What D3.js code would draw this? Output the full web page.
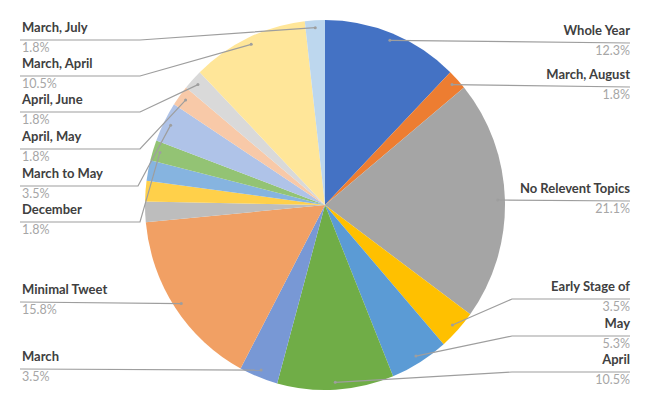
<!DOCTYPE html>
<html>
<head>
<meta charset="utf-8">
<script src="https://cdn.jsdelivr.net/npm/d3@7"></script>
<style>
  html, body { margin: 0; padding: 0; background: #fff; }
  svg { display: block; }
</style>
</head>
<body>
<div id="chart"></div>
<script>
// Slices, clockwise from 12 o'clock
const categories = [
  'Whole Year', 'March, August', 'No Relevent Topics', 'Early Stage of', 'May',
  'April', 'March', 'Minimal Tweet', '', '', '', 'December', 'March to May',
  'April, May', 'April, June', 'March, April', 'March, July'
];
const shares = [12.3, 1.8, 21.1, 3.5, 5.3, 10.5, 3.5, 15.8, 1.8, 1.8, 1.8, 1.8, 3.5, 1.8, 1.8, 10.5, 1.8];
const colors = [
  '#4472C4', '#ED7D31', '#A5A5A5', '#FFC000', '#5B9BD5', '#70AD47', '#7898D5',
  '#F1A064', '#BDBDBD', '#FFD04A', '#86B4E0', '#93C374', '#AFC3E8', '#F8C9A8',
  '#D9D9D9', '#FFE699', '#BDD7EE'
];

// label layout: y of leader line and x of the elbow (null = straight leader)
const labelLineY = [43, 87, 201, 299, 336, 372, 369, 302, null, null, null, 222, 186, 149, 112, 76, 40];
const labelElbowX = [null, null, null, 512, 512, 512, null, null, null, null, null, 140, 138, 140, 140, 140, 140];

const width = 650, height = 412;
const cx = 325, cy = 205, radius = 180, squash = 1.028;
const leftX = 20, rightX = 630;

const svg = d3.select('#chart')
  .append('svg')
  .attr('width', width)
  .attr('height', height)
  .attr('viewBox', `0 0 ${width} ${height}`);

const pie = d3.pie().sort(null).value(d => d);
const arcs = pie(shares);

const arc = d3.arc().innerRadius(0).outerRadius(radius);
const pointArc = d3.arc().innerRadius(radius * 0.96).outerRadius(radius * 0.96);

// Draw slices
svg.append('g')
  .attr('transform', `translate(${cx},${cy}) scale(1,${squash})`)
  .selectAll('path')
  .data(arcs)
  .join('path')
  .attr('d', arc)
  .attr('fill', (d, i) => colors[i]);

// Leader lines and labels
const labels = svg.append('g');

arcs.forEach((d, i) => {
  if (!categories[i]) return;
  const [px, py] = pointArc.centroid(d);
  const pt = [cx + px, cy + py * squash];
  const mid = (d.startAngle + d.endAngle) / 2;
  const right = mid < Math.PI;
  const y = labelLineY[i];
  const edge = right ? rightX : leftX;

  const pts = [[edge, y]];
  if (labelElbowX[i] !== null) pts.push([labelElbowX[i], y]);
  pts.push(pt);

  labels.append('path')
    .attr('d', d3.line()(pts))
    .attr('fill', 'none')
    .attr('stroke', '#9E9E9E')
    .attr('stroke-width', 1.2);

  labels.append('circle')
    .attr('cx', pt[0])
    .attr('cy', pt[1])
    .attr('r', 1.5)
    .attr('fill', '#9E9E9E');

  const tx = right ? rightX : leftX + 2;
  const anchor = right ? 'end' : 'start';

  labels.append('text')
    .attr('x', tx)
    .attr('y', y - 8)
    .attr('text-anchor', anchor)
    .attr('font-family', 'Lato, "Open Sans", sans-serif')
    .attr('font-size', '13px')
    .attr('font-weight', 'bold')
    .attr('fill', '#404040')
    .text(categories[i]);

  labels.append('text')
    .attr('x', tx)
    .attr('y', y + 12)
    .attr('text-anchor', anchor)
    .attr('font-family', 'Lato, "Open Sans", sans-serif')
    .attr('font-size', '12.5px')
    .attr('fill', '#A6A6A6')
    .text(shares[i].toFixed(1) + '%');
});
</script>
</body>
</html>
